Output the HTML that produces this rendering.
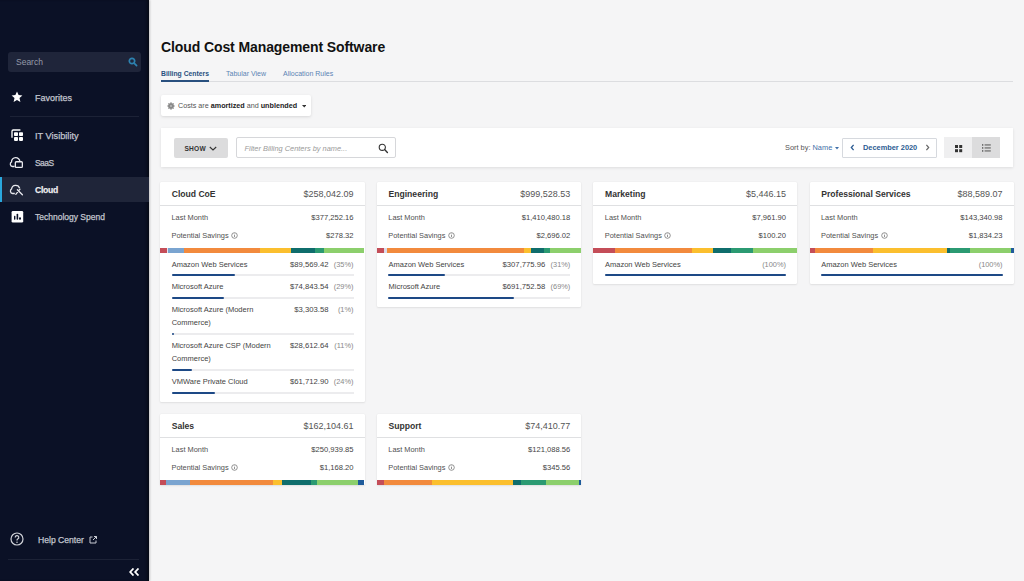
<!DOCTYPE html>
<html><head><meta charset="utf-8">
<style>
*{box-sizing:border-box;margin:0;padding:0}
html,body{width:1024px;height:581px;overflow:hidden}
body{font-family:"Liberation Sans",sans-serif;background:#f5f5f6;position:relative;color:#333}
.abs{position:absolute}
/* sidebar */
#sb{position:absolute;left:0;top:0;width:149px;height:581px;background:#0b1126;box-shadow:inset -3px 0 3px -1px rgba(0,0,0,.45),1px 0 2px rgba(0,0,0,.2)}
#sb .search{position:absolute;left:8px;top:52px;width:133px;height:20px;background:#1f253a;border-radius:3px}
#sb .search span{position:absolute;left:8px;top:5px;font-size:8.5px;color:#959aa8}
#sb .item{position:absolute;left:0;width:149px;height:25px}
#sb .item .t{position:absolute;left:35px;top:8.3px;font-size:8.8px;color:#c2c5ce;-webkit-text-stroke:.25px #c2c5ce;white-space:nowrap}
#sb .item svg{position:absolute;left:11px;top:6px}
#sb .item.act{background:#1f2539}
#sb .item.act .t{color:#fff;font-weight:700}
#sb .item.act::before{content:"";position:absolute;left:0;top:0;width:2px;height:25px;background:#2aa7dd}
#sb .div{position:absolute;left:10px;width:129px;height:1px;background:#1c2236}
/* main */
h1{position:absolute;left:161px;top:39px;font-size:14px;font-weight:700;color:#111;letter-spacing:-0.1px;white-space:nowrap}
.tabs{position:absolute;left:161px;top:81px;width:852px;height:1px;background:#dcdde0}
.tab{position:absolute;top:69.5px;font-size:7px;color:#5b84b4;white-space:nowrap}
.tab.act{color:#29507f;font-weight:700;font-size:6.8px}
.tabul{position:absolute;left:161px;top:80px;width:48px;height:2px;background:#29507f}
.costs{position:absolute;left:161px;top:95px;width:150px;height:21px;background:#fff;box-shadow:0 1px 3px rgba(0,0,0,.12);border-radius:2px}
.costs .t{position:absolute;left:17px;top:6px;font-size:7.2px;color:#555;white-space:nowrap}
.costs .t b{color:#222}
.toolbar{position:absolute;left:161px;top:128px;width:852px;height:39px;background:#fff;box-shadow:0 1px 3px rgba(0,0,0,.1)}
.show{position:absolute;left:12.5px;top:10px;width:54px;height:20px;background:#dcdcdd;border-radius:2px}
.show .t{position:absolute;left:11px;top:6.5px;font-size:6.6px;font-weight:700;color:#333;letter-spacing:.2px}
.filter{position:absolute;left:75px;top:9px;width:160px;height:21px;border:1px solid #d6d7da;border-radius:2px;background:#fff}
.filter .t{position:absolute;left:7.5px;top:5.5px;font-size:7.4px;font-style:italic;color:#9a9a9a;white-space:nowrap}
.sortby{position:absolute;left:624px;top:15px;font-size:7.4px;color:#555;white-space:nowrap}
.sortby span{color:#3f6fa8}
.datebox{position:absolute;left:681px;top:10px;width:94.5px;height:20px;border:1px solid #d6d9de;background:#fff;border-radius:1px}
.datebox .t{position:absolute;left:20px;top:3.8px;font-size:7.4px;font-weight:700;color:#2c5c93;white-space:nowrap}
.vbtn{position:absolute;top:9px;width:28px;height:21px}
/* cards */
.card{position:absolute;width:204.5px;background:#fff;box-shadow:0 0 1px rgba(0,0,0,.12),0 1px 2px rgba(0,0,0,.08);border-radius:1px}
.card .hd{height:24px;border-bottom:1px solid #dfe0e2;position:relative}
.card .hd .n{position:absolute;left:11.7px;top:7.5px;font-size:8.6px;font-weight:700;color:#333;white-space:nowrap}
.card .hd .v{position:absolute;right:11px;top:7.5px;font-size:9px;color:#555;white-space:nowrap}
.card .row{position:relative;height:18px}
.card .row .l{position:absolute;left:11.5px;top:3.5px;font-size:7.4px;color:#505050;white-space:nowrap}
.card .row .r{position:absolute;right:11px;top:3.5px;font-size:7.6px;color:#444;white-space:nowrap}
.card .rows{padding-top:3.5px;height:42px}
.card .cb{display:flex;height:5px;margin-top:0}
.card .cb i{display:block;height:5px}
.info{display:inline-block;margin-left:2.5px;vertical-align:-1.5px}
.prov{padding:1px 11px 8px 11.7px}
.pi{padding-top:5px;position:relative}
.pi .pl{font-size:7.5px;color:#444;line-height:12.6px;width:110px}
.pi .pa{position:absolute;right:25px;top:5px;line-height:12.6px;font-size:7.7px;color:#444}
.pi .pp{position:absolute;right:0;top:5px;line-height:12.6px;font-size:7.4px;color:#888}
.pi .bar{margin-top:3.4px;height:2px;background:#ececee;position:relative}
.pi .bar b{position:absolute;left:0;top:0;height:2px;background:#1d4986;border-radius:1px}
.pi .gap{height:5px}
</style></head><body>

<div id="sb">
  <div class="search"><span>Search</span>
    <svg class="abs" style="left:120px;top:5px" width="10" height="10" viewBox="0 0 10 10"><circle cx="4" cy="4" r="2.7" fill="none" stroke="#2d82b0" stroke-width="1.7"/><path d="M6.1 6.1l2.5 2.5" stroke="#2d82b0" stroke-width="1.7" stroke-linecap="round"/></svg>
  </div>
  <div class="item" style="top:85px">
    <svg width="12" height="12" viewBox="0 0 12 12" style="top:6px"><path d="M6 0.6l1.6 3.5 3.8.4-2.9 2.6.9 3.8L6 8.9 2.6 10.9l.9-3.8L.6 4.5l3.8-.4z" fill="#fff"/></svg>
    <span class="t" style="font-size:9px">Favorites</span></div>
  <div class="div" style="top:116px"></div>
  <div class="item" style="top:123px">
    <svg width="13" height="13" viewBox="0 0 13 13"><path d="M1 8.7V2.2a1.2 1.2 0 0 1 1.2-1.2H9.4" fill="none" stroke="#fff" stroke-width="1.3"/><rect x="3" y="3.2" width="4" height="3.9" rx=".8" fill="#fff"/><rect x="8" y="3.2" width="4" height="3.9" rx=".8" fill="#fff"/><rect x="3" y="8" width="4" height="3.9" rx=".8" fill="#fff"/><rect x="8" y="8" width="4" height="3.9" rx=".8" fill="#fff"/></svg>
    <span class="t" style="font-size:9.2px;top:8px">IT Visibility</span></div>
  <div class="item" style="top:150px">
    <svg width="15" height="14" viewBox="0 0 15 14" style="left:9.3px;top:6px"><path d="M5.6 10.5H3.5A2.5 2.5 0 0 1 2.5 5.9 4.2 4.2 0 0 1 10.9 5.6" fill="none" stroke="#e8e9ee" stroke-width="1.3"/><rect x="6.35" y="5.75" width="7" height="5.7" rx=".9" fill="none" stroke="#e8e9ee" stroke-width="1.3"/></svg>
    <span class="t" style="font-size:8.4px;letter-spacing:-.5px">SaaS</span></div>
  <div class="item act" style="top:177px">
    <svg width="15" height="14" viewBox="0 0 15 14" style="left:9.3px;top:6px"><path d="M5.8 10.5H3.6A2.5 2.5 0 0 1 2.6 5.9 4.1 4.1 0 0 1 10.6 5.3" fill="none" stroke="#e8e9ee" stroke-width="1.3"/><path d="M6.8 11.3L11 6.2M8.4 6.8l5 5" stroke="#e8e9ee" stroke-width="1.3" stroke-linecap="round"/></svg>
    <span class="t" style="font-size:8.6px;letter-spacing:-.3px">Cloud</span></div>
  <div class="item" style="top:204px">
    <svg width="13" height="13" viewBox="0 0 13 13"><rect x="0.6" y="1" width="11.6" height="11.5" rx="1.3" fill="#fff"/><rect x="3" y="5.8" width="1.4" height="3.9" rx=".6" fill="#0b1126"/><rect x="5.6" y="3.7" width="1.6" height="6" rx=".7" fill="#0b1126"/><rect x="8" y="7.3" width="2" height="2.4" rx=".9" fill="#0b1126"/></svg>
    <span class="t" style="font-size:8.5px">Technology Spend</span></div>

  <svg class="abs" style="left:10px;top:532px" width="14" height="14" viewBox="0 0 14 14"><circle cx="7" cy="7" r="6" fill="none" stroke="#d0d2d8" stroke-width="1.2"/><path d="M5.2 5.4a1.8 1.8 0 1 1 2.5 1.6c-.5.3-.7.6-.7 1.2v.4" fill="none" stroke="#d0d2d8" stroke-width="1.2"/><circle cx="7" cy="10.2" r=".75" fill="#d0d2d8"/></svg>
  <span class="abs" style="left:38px;top:535px;font-size:8.6px;color:#c2c5ce;-webkit-text-stroke:.25px #c2c5ce;white-space:nowrap">Help Center</span>
  <svg class="abs" style="left:89px;top:536px" width="8" height="8" viewBox="0 0 8 8"><path d="M3.5 1H1v6h6V4.5" fill="none" stroke="#c9ccd4" stroke-width="1"/><path d="M4 4l3.5-3.5M5 .5h2.5V3" fill="none" stroke="#c9ccd4" stroke-width="1"/></svg>
  <div class="div" style="top:559px;left:8px;width:131px"></div>
  <svg class="abs" style="left:129px;top:568px" width="11" height="8" viewBox="0 0 11 8"><path d="M4.5 .5L1.2 4l3.3 3.5M9.5 .5L6.2 4l3.3 3.5" fill="none" stroke="#fff" stroke-width="1.8"/></svg>
</div>

<h1>Cloud Cost Management Software</h1>
<span class="tab act" style="left:161px">Billing Centers</span>
<span class="tab" style="left:226px">Tabular View</span>
<span class="tab" style="left:283px">Allocation Rules</span>
<div class="tabs"></div>
<div class="tabul"></div>

<div class="costs">
  <svg class="abs" style="left:5.5px;top:6.5px" width="8" height="8" viewBox="0 0 8 8"><path d="M7.66 3.48 L7.66 4.52 L6.81 4.72 L6.50 5.48 L6.96 6.22 L6.22 6.96 L5.48 6.50 L4.72 6.81 L4.52 7.66 L3.48 7.66 L3.28 6.81 L2.52 6.50 L1.78 6.96 L1.04 6.22 L1.50 5.48 L1.19 4.72 L0.34 4.52 L0.34 3.48 L1.19 3.28 L1.50 2.52 L1.04 1.78 L1.78 1.04 L2.52 1.50 L3.28 1.19 L3.48 0.34 L4.52 0.34 L4.72 1.19 L5.48 1.50 L6.22 1.04 L6.96 1.78 L6.50 2.52 L6.81 3.28Z" fill="#8a8a8a"/><circle cx="4" cy="4" r="1" fill="#bbb"/></svg>
  <span class="t">Costs are <b>amortized</b> and <b>unblended</b></span>
  <svg class="abs" style="left:140.5px;top:9.5px" width="4.5" height="3" viewBox="0 0 4.5 3"><path d="M0 0h4.5L2.25 2.6z" fill="#333"/></svg>
</div>

<div class="toolbar">
  <div class="show"><span class="t">SHOW</span>
    <svg class="abs" style="left:35.5px;top:8px" width="8" height="5" viewBox="0 0 8 5"><path d="M.8 1l3.2 3L7.2 1" fill="none" stroke="#333" stroke-width="1.1"/></svg></div>
  <div class="filter"><span class="t">Filter Billing Centers by name...</span>
    <svg class="abs" style="left:140.5px;top:5px" width="11" height="11" viewBox="0 0 11 11"><circle cx="4.3" cy="4.3" r="3.1" fill="none" stroke="#333" stroke-width="1.1"/><path d="M6.6 6.6l2.8 2.8" stroke="#333" stroke-width="1.4" stroke-linecap="round"/></svg></div>
  <span class="sortby">Sort by: <span>Name</span></span>
  <svg class="abs" style="left:673.5px;top:18.5px" width="4" height="3" viewBox="0 0 4 3"><path d="M0 0h4L2 2.5z" fill="#3f6fa8"/></svg>
  <div class="datebox">
    <svg class="abs" style="left:6.5px;top:5px" width="5" height="7" viewBox="0 0 5 7"><path d="M3.6 .8L1.3 3.5 3.6 6.2" fill="none" stroke="#2c5c93" stroke-width="1.3"/></svg>
    <span class="t">December 2020</span>
    <svg class="abs" style="left:82px;top:5px" width="5" height="7" viewBox="0 0 5 7"><path d="M1.4 .8L3.7 3.5 1.4 6.2" fill="none" stroke="#666" stroke-width="1.2"/></svg>
  </div>
  <div class="vbtn" style="left:783px;background:#efeff0"><svg class="abs" style="left:10.5px;top:7.5px" width="8" height="8" viewBox="0 0 8 8"><rect x="0" y="0" width="3" height="3" fill="#333"/><rect x="4.2" y="0" width="3" height="3" fill="#333"/><rect x="0" y="4.2" width="3" height="3" fill="#333"/><rect x="4.2" y="4.2" width="3" height="3" fill="#333"/></svg></div>
  <div class="vbtn" style="left:811px;background:#dcdcdd"><svg class="abs" style="left:10px;top:7px" width="9" height="8" viewBox="0 0 9 8"><g fill="#444"><rect x="0" y="0.3" width="1.3" height="1.3"/><rect x="0" y="3.3" width="1.3" height="1.3"/><rect x="0" y="6.3" width="1.3" height="1.3"/><rect x="2.6" y="0.5" width="6.2" height="0.9"/><rect x="2.6" y="3.5" width="6.2" height="0.9"/><rect x="2.6" y="6.5" width="6.2" height="0.9"/></g></svg></div>
</div>

<!-- CARDS -->
<div class="card" style="left:160px;top:181.5px">
  <div class="hd"><span class="n">Cloud CoE</span><span class="v">$258,042.09</span></div>
  <div class="rows">
    <div class="row"><span class="l">Last Month</span><span class="r">$377,252.16</span></div>
    <div class="row"><span class="l">Potential Savings<svg class="info" width="7" height="7" viewBox="0 0 7 7"><circle cx="3.5" cy="3.5" r="2.8" fill="none" stroke="#777" stroke-width=".8"/><path d="M3.5 3v2" stroke="#777" stroke-width=".8"/><circle cx="3.5" cy="2" r=".45" fill="#777"/></svg></span><span class="r">$278.32</span></div>
  </div>
  <div class="cb"><i style="flex:6.6;background:#c44d58"></i><i style="flex:1.7;background:#e8e4ee"></i><i style="flex:15.6;background:#7aa4d0"></i><i style="flex:76.6;background:#f28a3d"></i><i style="flex:30.4;background:#fbbf2e"></i><i style="flex:24.6;background:#0f6d6c"></i><i style="flex:8.2;background:#2b9a72"></i><i style="flex:40.8;background:#8ccf6c"></i></div>
  <div class="prov">
    <div class="pi"><div class="pl">Amazon Web Services</div><span class="pa">$89,569.42</span><span class="pp">(35%)</span><div class="bar"><b style="width:35%"></b></div></div>
    <div class="pi"><div class="pl">Microsoft Azure</div><span class="pa">$74,843.54</span><span class="pp">(29%)</span><div class="bar"><b style="width:29%"></b></div></div>
    <div class="pi"><div class="pl">Microsoft Azure (Modern Commerce)</div><span class="pa">$3,303.58</span><span class="pp">(1%)</span><div class="bar"><b style="width:1%"></b></div></div>
    <div class="pi"><div class="pl">Microsoft Azure CSP (Modern Commerce)</div><span class="pa">$28,612.64</span><span class="pp">(11%)</span><div class="bar"><b style="width:11%"></b></div></div>
    <div class="pi"><div class="pl">VMWare Private Cloud</div><span class="pa">$61,712.90</span><span class="pp">(24%)</span><div class="bar"><b style="width:24%"></b></div></div>
  </div>
</div>

<div class="card" style="left:376.8px;top:181.5px">
  <div class="hd"><span class="n">Engineering</span><span class="v">$999,528.53</span></div>
  <div class="rows">
    <div class="row"><span class="l">Last Month</span><span class="r">$1,410,480.18</span></div>
    <div class="row"><span class="l">Potential Savings<svg class="info" width="7" height="7" viewBox="0 0 7 7"><circle cx="3.5" cy="3.5" r="2.8" fill="none" stroke="#777" stroke-width=".8"/><path d="M3.5 3v2" stroke="#777" stroke-width=".8"/><circle cx="3.5" cy="2" r=".45" fill="#777"/></svg></span><span class="r">$2,696.02</span></div>
  </div>
  <div class="cb"><i style="flex:7.3;background:#c44d58"></i><i style="flex:2.8;background:#dcdcea"></i><i style="flex:136.4;background:#f28a3d"></i><i style="flex:7.6;background:#fbbf2e"></i><i style="flex:12.9;background:#0f6d6c"></i><i style="flex:6.2;background:#2b9a72"></i><i style="flex:31;background:#8ccf6c"></i></div>
  <div class="prov">
    <div class="pi"><div class="pl">Amazon Web Services</div><span class="pa">$307,775.96</span><span class="pp">(31%)</span><div class="bar"><b style="width:31%"></b></div></div>
    <div class="pi"><div class="pl">Microsoft Azure</div><span class="pa">$691,752.58</span><span class="pp">(69%)</span><div class="bar"><b style="width:69%"></b></div></div>
  </div>
</div>

<div class="card" style="left:593.3px;top:181.5px;width:203.7px">
  <div class="hd"><span class="n">Marketing</span><span class="v">$5,446.15</span></div>
  <div class="rows">
    <div class="row"><span class="l">Last Month</span><span class="r">$7,961.90</span></div>
    <div class="row"><span class="l">Potential Savings<svg class="info" width="7" height="7" viewBox="0 0 7 7"><circle cx="3.5" cy="3.5" r="2.8" fill="none" stroke="#777" stroke-width=".8"/><path d="M3.5 3v2" stroke="#777" stroke-width=".8"/><circle cx="3.5" cy="2" r=".45" fill="#777"/></svg></span><span class="r">$100.20</span></div>
  </div>
  <div class="cb"><i style="flex:21.9;background:#c44d58"></i><i style="flex:76.5;background:#f28a3d"></i><i style="flex:20.5;background:#fbbf2e"></i><i style="flex:18.5;background:#0f6d6c"></i><i style="flex:21.9;background:#2b9a72"></i><i style="flex:43.7;background:#8ccf6c"></i></div>
  <div class="prov">
    <div class="pi"><div class="pl">Amazon Web Services</div><span class="pp">(100%)</span><div class="bar"><b style="width:100%"></b></div></div>
  </div>
</div>

<div class="card" style="left:809.5px;top:181.5px;width:204px">
  <div class="hd"><span class="n">Professional Services</span><span class="v">$88,589.07</span></div>
  <div class="rows">
    <div class="row"><span class="l">Last Month</span><span class="r">$143,340.98</span></div>
    <div class="row"><span class="l">Potential Savings<svg class="info" width="7" height="7" viewBox="0 0 7 7"><circle cx="3.5" cy="3.5" r="2.8" fill="none" stroke="#777" stroke-width=".8"/><path d="M3.5 3v2" stroke="#777" stroke-width=".8"/><circle cx="3.5" cy="2" r=".45" fill="#777"/></svg></span><span class="r">$1,834.23</span></div>
  </div>
  <div class="cb"><i style="flex:5.5;background:#c44d58"></i><i style="flex:58.1;background:#f28a3d"></i><i style="flex:74.2;background:#fbbf2e"></i><i style="flex:2.1;background:#0f6d6c"></i><i style="flex:20.5;background:#2b9a72"></i><i style="flex:41;background:#8ccf6c"></i><i style="flex:2.4;background:#1e5b9b"></i></div>
  <div class="prov">
    <div class="pi"><div class="pl">Amazon Web Services</div><span class="pp">(100%)</span><div class="bar"><b style="width:100%"></b></div></div>
  </div>
</div>

<div class="card" style="left:160px;top:413.5px">
  <div class="hd"><span class="n">Sales</span><span class="v">$162,104.61</span></div>
  <div class="rows">
    <div class="row"><span class="l">Last Month</span><span class="r">$250,939.85</span></div>
    <div class="row"><span class="l">Potential Savings<svg class="info" width="7" height="7" viewBox="0 0 7 7"><circle cx="3.5" cy="3.5" r="2.8" fill="none" stroke="#777" stroke-width=".8"/><path d="M3.5 3v2" stroke="#777" stroke-width=".8"/><circle cx="3.5" cy="2" r=".45" fill="#777"/></svg></span><span class="r">$1,168.20</span></div>
  </div>
  <div class="cb"><i style="flex:5.8;background:#c44d58"></i><i style="flex:24;background:#7aa4d0"></i><i style="flex:83.5;background:#f28a3d"></i><i style="flex:8.4;background:#fbbf2e"></i><i style="flex:29.1;background:#0f6d6c"></i><i style="flex:6.1;background:#2b9a72"></i><i style="flex:41.1;background:#8ccf6c"></i><i style="flex:6.5;background:#1e5b9b"></i></div>
</div>

<div class="card" style="left:376.8px;top:413.5px">
  <div class="hd"><span class="n">Support</span><span class="v">$74,410.77</span></div>
  <div class="rows">
    <div class="row"><span class="l">Last Month</span><span class="r">$121,088.56</span></div>
    <div class="row"><span class="l">Potential Savings<svg class="info" width="7" height="7" viewBox="0 0 7 7"><circle cx="3.5" cy="3.5" r="2.8" fill="none" stroke="#777" stroke-width=".8"/><path d="M3.5 3v2" stroke="#777" stroke-width=".8"/><circle cx="3.5" cy="2" r=".45" fill="#777"/></svg></span><span class="r">$345.56</span></div>
  </div>
  <div class="cb"><i style="flex:6.7;background:#c44d58"></i><i style="flex:48.6;background:#f28a3d"></i><i style="flex:80;background:#fbbf2e"></i><i style="flex:8.2;background:#0f6d6c"></i><i style="flex:25.3;background:#2b9a72"></i><i style="flex:32.2;background:#8ccf6c"></i><i style="flex:2.6;background:#1e5b9b"></i></div>
</div>

</body></html>
